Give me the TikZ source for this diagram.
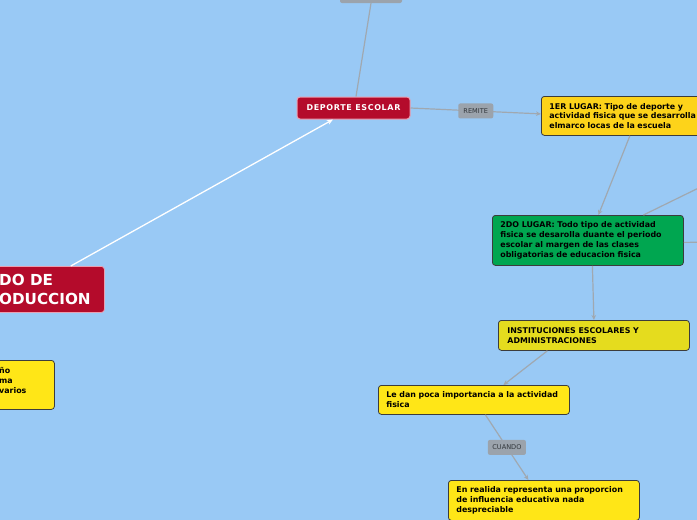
\documentclass[tikz,border=0pt]{standalone}
\usepackage{fontspec}
\setmainfont{DejaVu Sans}
\usetikzlibrary{arrows.meta}
\definecolor{bgblue}{RGB}{153,201,245}
\definecolor{crimson}{RGB}{180,11,43}
\definecolor{crimsonedge}{RGB}{232,160,178}
\definecolor{gold}{RGB}{253,211,26}
\definecolor{leafgreen}{RGB}{0,166,80}
\definecolor{olive}{RGB}{229,220,30}
\definecolor{lemon}{RGB}{255,230,23}
\definecolor{edgegray}{RGB}{60,60,60}
\definecolor{linkgray}{RGB}{160,168,176}
\definecolor{tagfill}{RGB}{155,163,172}
\definecolor{tagtext}{RGB}{50,55,60}
\tikzset{
  box/.style={draw=edgegray, line width=0.8pt, rounded corners=3pt, anchor=north west,
    align=left, inner xsep=8pt, inner ysep=2pt, font=\bfseries\fontsize{7.9}{9.8}\selectfont, text=black},
  link/.style={draw=linkgray, line width=1.2pt, -{Stealth[length=5pt,width=4.5pt]}},
  plainlink/.style={draw=linkgray, line width=1.2pt},
  tag/.style={fill=tagfill, rounded corners=2pt, text=tagtext, inner sep=0pt,
    font=\fontsize{6.6}{7}\selectfont, minimum height=15pt},
}
\begin{document}
\begin{tikzpicture}[x=1pt,y=-1pt]
\useasboundingbox (0,0) rectangle (697,520);
\fill[bgblue] (0,0) rectangle (697,520);
\clip (0,0) rectangle (697,520);

% top cut-off label
\node[tag, minimum width=62pt, minimum height=22pt] (toplabel) at (371,-8) {};

% main (cut) node
\node[fill=crimson, draw=crimsonedge, line width=0.8pt, rounded corners=3pt, anchor=north west,
  minimum width=164pt, minimum height=46pt, inner sep=0pt] (mainbox) at (-60,266) {};
\node[anchor=west, align=left, text=white, inner sep=0pt,
  font=\bfseries\fontsize{15.2}{19.5}\selectfont] (maintext) at (-1,289.5) {DO DE\\ODUCCION};

% deporte escolar
\node[fill=crimson, draw=crimsonedge, line width=1pt, rounded corners=3pt, text=white,
  minimum width=113pt, minimum height=22pt, inner sep=0pt,
  font=\bfseries\fontsize{8}{9}\selectfont\addfontfeature{LetterSpace=8}] (deporte) at (353.5,108) {DEPORTE ESCOLAR};

% boxes
\node[box, fill=gold, text width=152pt, minimum height=39pt] (er) at (541,96)
  {1ER LUGAR: Tipo de deporte y\\actividad fisica que se desarrolla\\elmarco locas de la escuela};
\node[box, fill=leafgreen, text width=175pt, minimum height=50pt] (two) at (492,215)
  {2DO LUGAR: Todo tipo de actividad\\fisica se desarolla duante el periodo\\escolar al margen de las clases\\obligatorias de educacion fisica};
\node[box, fill=olive, text width=173pt, minimum height=30pt, inner xsep=9pt] (inst) at (498,320)
  {INSTITUCIONES ESCOLARES Y\\ADMINISTRACIONES};
\node[box, fill=lemon, text width=175pt, minimum height=29pt] (ledan) at (378,385)
  {Le dan poca importancia a la actividad\\fisica};
\node[box, fill=lemon, text width=175pt, minimum height=40pt] (enr) at (448,480)
  {En realida representa una proporcion\\de influencia educativa nada\\despreciable};
\node[box, fill=lemon, minimum width=174pt, minimum height=49pt, inner sep=0pt] (leftbox) at (-120,360) {};
\node[anchor=west, align=left, inner sep=0pt, font=\bfseries\fontsize{7.9}{9.8}\selectfont] (lefttext) at (-1,380.5)
  {ño\\ma\\varios};

% off-canvas ends
\coordinate (offA) at (760,158);
\coordinate (offB) at (730,242);

% connectors
\draw[white, line width=1.3pt, -{Stealth[length=6pt,width=5pt]}] ([xshift=-34pt]mainbox.north east) -- ([xshift=-20.5pt]deporte.south);
\draw[plainlink] (toplabel.south) -- ([xshift=2.5pt]deporte.north);
\draw[link] (deporte.east) -- node[tag, minimum width=35pt] (remite) {REMITE} ([yshift=2pt]er.west);
\draw[link] ([xshift=4.5pt]er.south) -- ([xshift=10.5pt]two.north);
\draw[plainlink] ([xshift=55.5pt]two.north) -- (offA);
\draw[plainlink] ([yshift=-2pt]two.east) -- (offB);
\draw[link] ([xshift=4.5pt]two.south) -- (inst.north);
\draw[link] ([xshift=-46.5pt]inst.south) -- ([xshift=29.5pt]ledan.north);
\draw[link] ([xshift=11.5pt]ledan.south) -- node[tag, minimum width=38pt] (cuando) {CUANDO} ([xshift=-15.5pt]enr.north);
\end{tikzpicture}
\end{document}
